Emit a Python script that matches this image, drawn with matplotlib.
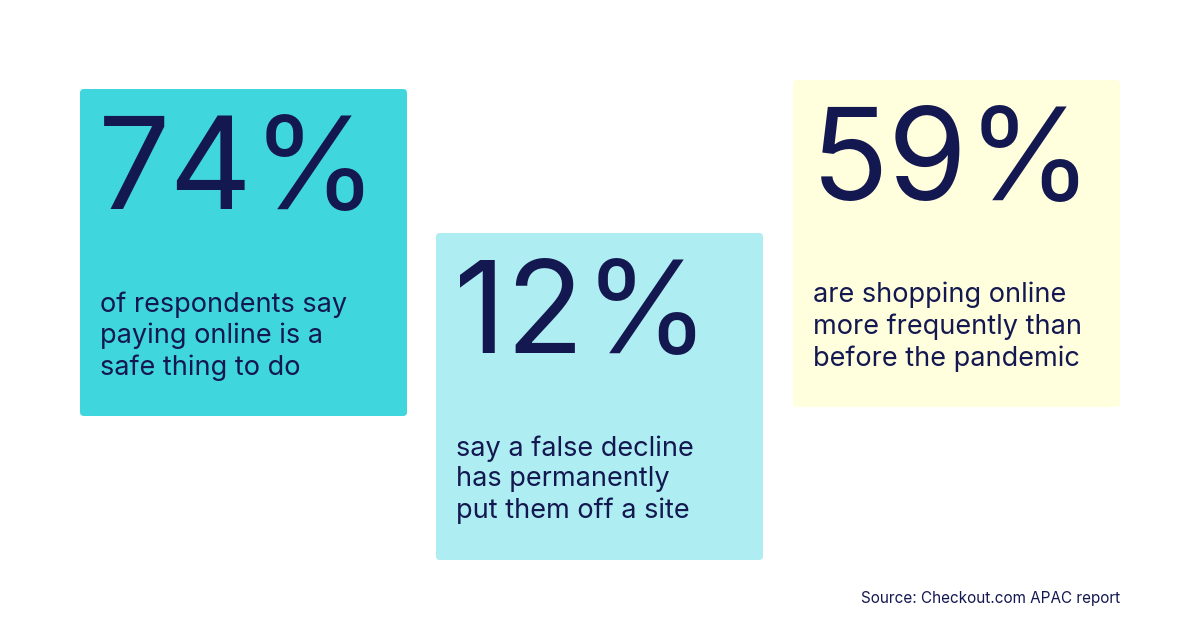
import matplotlib
matplotlib.use("Agg")
import matplotlib.pyplot as plt
from matplotlib.patches import FancyBboxPatch

values = ["74%", "12%", "59%"]
captions = [
    "of respondents say\npaying online is a\nsafe thing to do",
    "say a false decline\nhas permanently\nput them off a site",
    "are shopping online\nmore frequently than\nbefore the pandemic",
]
box_colors = ["#3FD7DD", "#AEEDF1", "#FFFFDD"]
box_left = [80, 436, 793]
box_top = [89, 233, 80]
source = "Source: Checkout.com APAC report"

W, H = 1200, 641
fig = plt.figure(figsize=(12, 6.41), dpi=100)
ax = fig.add_axes([0, 0, 1, 1])
ax.set_xlim(0, W)
ax.set_ylim(H, 0)
ax.axis("off")
navy = "#141850"
size = 327
for v, c, col, x, y in zip(values, captions, box_colors, box_left, box_top):
    ax.add_patch(FancyBboxPatch((x + 4, y + 4), size - 8, size - 8,
                                boxstyle="round,pad=4", fc=col, ec="none"))
    ax.text(x + 18, y + 120, v, fontsize=92, family="Inter", color=navy,
            va="baseline", ha="left")
    ax.text(x + 20, y + 202, c, fontsize=19.5, family="Inter", color=navy,
            va="top", ha="left", linespacing=1.25)
ax.text(1120, 599, source, fontsize=11, family="Inter", color=navy,
        ha="right", va="center")
fig.savefig("out.png", dpi=100)
